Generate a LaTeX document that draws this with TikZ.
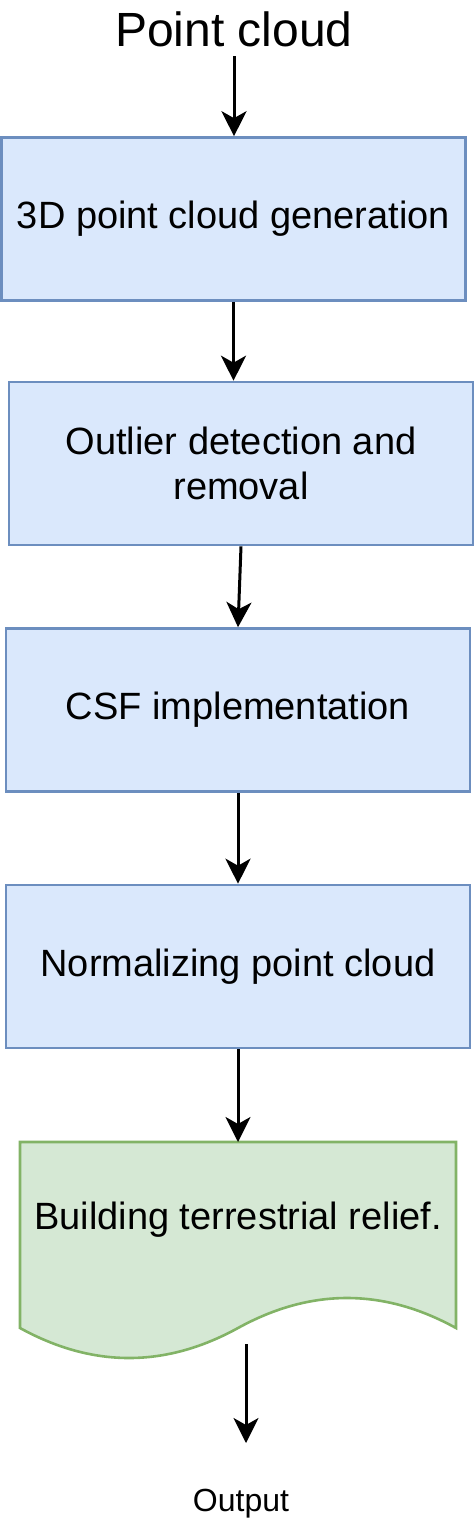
\documentclass[tikz,border=0pt]{standalone}
\usepackage{fontspec}
\setmainfont{Liberation Sans}
\usepackage{tikz}
\usetikzlibrary{arrows.meta, positioning}
\definecolor{procfill}{HTML}{DAE8FC}
\definecolor{procline}{HTML}{6C8EBF}
\definecolor{docfill}{HTML}{D5E8D4}
\definecolor{docline}{HTML}{82B366}

\begin{document}
\begin{tikzpicture}[x=1pt, y=-1pt,
        procbox/.style={draw=procline, fill=procfill, line width=2.6pt, minimum width=464pt,
            minimum height=163pt, align=center, inner sep=0pt, font=\fontsize{38}{45.6}\selectfont},
        flow/.style={-{Stealth[length=25pt, width=25pt, inset=7pt]}, line width=3pt}]
        \useasboundingbox (0,0) rectangle (474,1528);

        % Draw the input label
        \node[font=\fontsize{48}{56}\selectfont] (title) at (234,29) {Point cloud};

        % Draw the processing steps
        \node[procbox] (gen) at (233.5,219) {3D point cloud generation};
        \node[procbox] (outlier) at (241,463.5) {Outlier detection and\\removal};
        \node[procbox] (csf) at (238,710) {CSF implementation};
        \node[procbox] (norm) at (238,966.5) {Normalizing point cloud};

        % Draw the document shape
        \draw[draw=docline, fill=docfill, line width=2.6pt] (20,1142) -- (456,1142) -- (456,1328)
            .. controls (383.3,1288) and (310.7,1288) .. (238,1328)
            .. controls (165.3,1368) and (92.7,1368) .. (20,1328) -- cycle;
        \coordinate (doctop) at (238,1142);
        \node[font=\fontsize{38}{46}\selectfont] (relief) at (238,1220) {Building terrestrial relief.};

        % Draw the output label
        \node[font=\fontsize{32}{38}\selectfont, anchor=base] (output) at (241,1511) {Output};
        \coordinate (outstart) at (246,1344);
        \coordinate (outend) at (246,1443);

        % Draw the arrows
        \draw[flow] ([yshift=-6pt]title.south) -- (title.south |- gen.north);
        \draw[flow] (gen.south) -- (gen.south |- outlier.north);
        \draw[flow] (outlier.south) -- (csf.north);
        \draw[flow] (csf.south) -- (norm.north);
        \draw[flow] (norm.south) -- (doctop);
        \draw[flow] (outstart) -- (outend);
\end{tikzpicture}
\end{document}
